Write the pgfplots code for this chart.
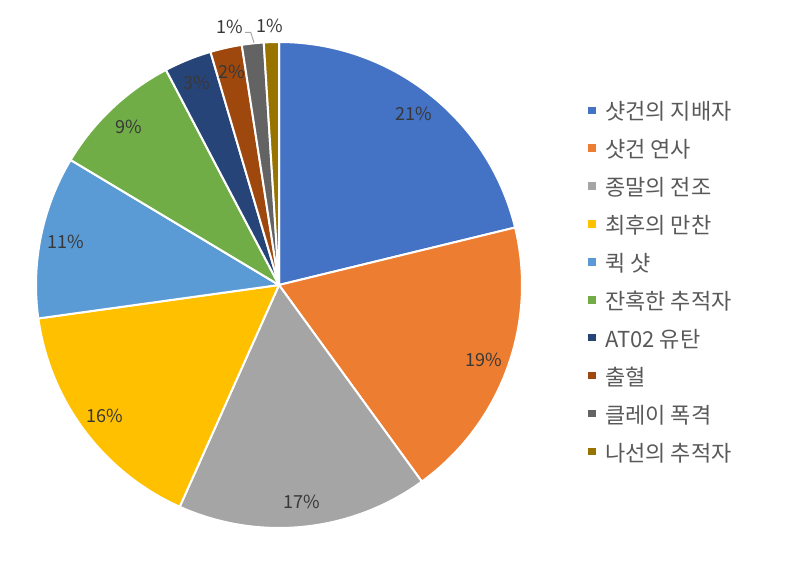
\documentclass[border=0pt]{standalone}
\usepackage{pgfplots}
\usepackage{pgfplotstable}
\pgfplotsset{compat=1.18}
\usetikzlibrary{calc}
\usepackage{fontspec}
\setmainfont{Noto Sans CJK KR}

\definecolor{pie0}{HTML}{4472C4}
\definecolor{pie1}{HTML}{ED7D31}
\definecolor{pie2}{HTML}{A5A5A5}
\definecolor{pie3}{HTML}{FFC000}
\definecolor{pie4}{HTML}{5B9BD5}
\definecolor{pie5}{HTML}{70AD47}
\definecolor{pie6}{HTML}{264478}
\definecolor{pie7}{HTML}{9E480E}
\definecolor{pie8}{HTML}{636363}
\definecolor{pie9}{HTML}{997300}
\definecolor{labc}{HTML}{383838}
\definecolor{legc}{HTML}{595959}

% share of each item, clockwise from the top
\pgfplotstableread[col sep=comma]{
value,name
21.2,샷건의 지배자
18.8,샷건 연사
16.7,종말의 전조
16.1,최후의 만찬
10.8,퀵 샷
8.7,잔혹한 추적자
3.15,AT02 유탄
2.1,출혈
1.45,클레이 폭격
1.0,나선의 추적자
}\piedata

% start, end and middle angle of every slice
\def\cum{0}
\pgfplotstableforeachcolumnelement{value}\of\piedata\as\v{%
  \pgfmathsetmacro\sa{90-3.6*\cum}%
  \pgfmathsetmacro\newcum{\cum+\v}%
  \pgfmathsetmacro\ea{90-3.6*\newcum}%
  \pgfmathsetmacro\ma{(\sa+\ea)/2}%
  \pgfmathtruncatemacro\pc{round(\v)}%
  \expandafter\xdef\csname sa\pgfplotstablerow\endcsname{\sa}%
  \expandafter\xdef\csname ea\pgfplotstablerow\endcsname{\ea}%
  \expandafter\xdef\csname ma\pgfplotstablerow\endcsname{\ma}%
  \expandafter\xdef\csname pc\pgfplotstablerow\endcsname{\pc}%
  \xdef\cum{\newcum}%
}
\pgfplotstableforeachcolumnelement{name}\of\piedata\as\n{%
  \expandafter\global\expandafter\let\csname nm\pgfplotstablerow\endcsname\n}

\newcommand\R{182.25pt}

\begin{document}
\begin{tikzpicture}
\begin{axis}[
  scale only axis,
  width=600pt, height=422.25pt,
  xmin=0, xmax=800, ymin=0, ymax=563,
  hide axis, clip=false,
]
\path (axis cs:0,0) rectangle (axis cs:800,563);

% slices
\pgfplotsinvokeforeach{0,...,9}{
  \filldraw[fill=pie#1, draw=white, line width=1.5pt, line join=round]
    (axis cs:279,278) -- ++(\csname sa#1\endcsname:\R)
    arc[start angle=\csname sa#1\endcsname, end angle=\csname ea#1\endcsname, radius=\R]
    -- cycle;
}

% labels inside the slices
\pgfplotsinvokeforeach{0,...,7}{
  \node[font=\fontsize{13.5}{16}\selectfont, text=labc, inner sep=0pt]
    at ($(axis cs:279,278)+(\csname ma#1\endcsname:163.5pt)$) {\csname pc#1\endcsname\%};
}
% the two smallest, outside
\node[font=\fontsize{13.5}{16}\selectfont, text=labc, inner sep=0pt]
  at (axis cs:229.7,536) {\csname pc8\endcsname\%};
\node[font=\fontsize{13.5}{16}\selectfont, text=labc, inner sep=0pt]
  at (axis cs:270,537.3) {\csname pc9\endcsname\%};
\draw[black!35, line width=0.75pt]
  (axis cs:245,530.7) -- (axis cs:250.7,530.7) -- (axis cs:254,520.3);

% legend
\pgfplotsinvokeforeach{0,...,9}{
  \fill[pie#1] ($(axis cs:592.2,{452.7-37.9*#1})+(-2.8pt,-2.8pt)$) rectangle ++(5.6pt,5.6pt);
  \node[anchor=west, inner sep=0pt, font=\fontsize{16.5}{19}\selectfont, text=legc]
    at (axis cs:605,{451.3-37.9*#1}) {\csname nm#1\endcsname};
}
\end{axis}
\end{tikzpicture}
\end{document}
